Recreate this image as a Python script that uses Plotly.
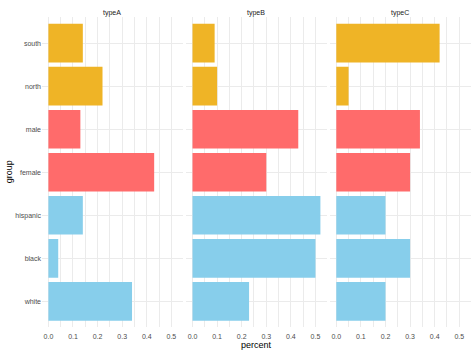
import plotly.graph_objects as go

groups = ["white", "black", "hispanic", "female", "male", "north", "south"]
group_kind = ["race", "race", "race", "gender", "gender", "region", "region"]
types = ["typeA", "typeB", "typeC"]
typeA = [0.34, 0.04, 0.14, 0.43, 0.13, 0.22, 0.14]
typeB = [0.23, 0.50, 0.52, 0.30, 0.43, 0.10, 0.09]
typeC = [0.20, 0.30, 0.20, 0.30, 0.34, 0.05, 0.42]
values = [typeA, typeB, typeC]
kind_colors = {"race": "#87CEEB", "gender": "#FF6B6B", "region": "#EFB426"}
x_ticks = [0.0, 0.1, 0.2, 0.3, 0.4, 0.5]

W, H = 474, 353
x_domains = [[42 / W, 182.7 / W], [186.1 / W, 326.8 / W], [329.9 / W, 470.6 / W]]
y_domain = [1 - 327.1 / H, 1 - 17.4 / H]

fig = go.Figure()
bar_colors = [kind_colors[k] for k in group_kind]
for i, (t, vals) in enumerate(zip(types, values)):
    sfx = "" if i == 0 else str(i + 1)
    fig.add_trace(go.Bar(
        x=vals, y=groups, orientation="h",
        marker=dict(color=bar_colors, line=dict(width=0)),
        xaxis="x" + sfx, yaxis="y" + sfx, showlegend=False,
    ))
    fig.add_annotation(
        text=t, xref="paper", yref="paper",
        x=sum(x_domains[i]) / 2, y=1 - 12.5 / H,
        showarrow=False, font=dict(size=7, color="#1A1A1A"),
        xanchor="center", yanchor="middle",
    )

grid = "#EBEBEB"
tickfont = dict(family="Liberation Sans, Arial, sans-serif", size=7, color="#4D4D4D")
layout = dict(
    width=W, height=H,
    margin=dict(l=0, r=0, t=0, b=0, autoexpand=False),
    paper_bgcolor="white", plot_bgcolor="white",
    bargap=0.1,
    font=dict(family="Liberation Sans, Arial, sans-serif"),
)
for i in range(3):
    sfx = "" if i == 0 else str(i + 1)
    layout["xaxis" + sfx] = dict(
        domain=x_domains[i], anchor="y" + sfx,
        range=[-0.026, 0.546], tickvals=x_ticks,
        ticktext=[f"{v:.1f}" for v in x_ticks],
        showgrid=True, gridcolor=grid, gridwidth=1,
        minor=dict(dtick=0.05, tick0=0, showgrid=True, gridcolor=grid, gridwidth=0.5),
        zeroline=False, showline=False, ticks="", tickfont=tickfont,
        ticklabelstandoff=4,
    )
    layout["yaxis" + sfx] = dict(
        domain=y_domain, anchor="x" + sfx,
        type="category", categoryorder="array", categoryarray=groups,
        range=[-0.6, 6.6], showgrid=True, gridcolor=grid, gridwidth=1,
        zeroline=False, showline=False, ticks="",
        showticklabels=(i == 0), tickfont=tickfont,
        matches=None if i == 0 else "y",
    )
fig.update_layout(**layout)

fig.add_annotation(text="percent", xref="paper", yref="paper",
                   x=sum(x_domains[1]) / 2, y=1 - 345 / H, showarrow=False,
                   font=dict(size=9, color="black"), xanchor="center", yanchor="middle")
fig.add_annotation(text="group", xref="paper", yref="paper",
                   x=9 / W, y=sum(y_domain) / 2, showarrow=False, textangle=-90,
                   font=dict(size=9, color="black"), xanchor="center", yanchor="middle")

fig.write_html("out.html")
